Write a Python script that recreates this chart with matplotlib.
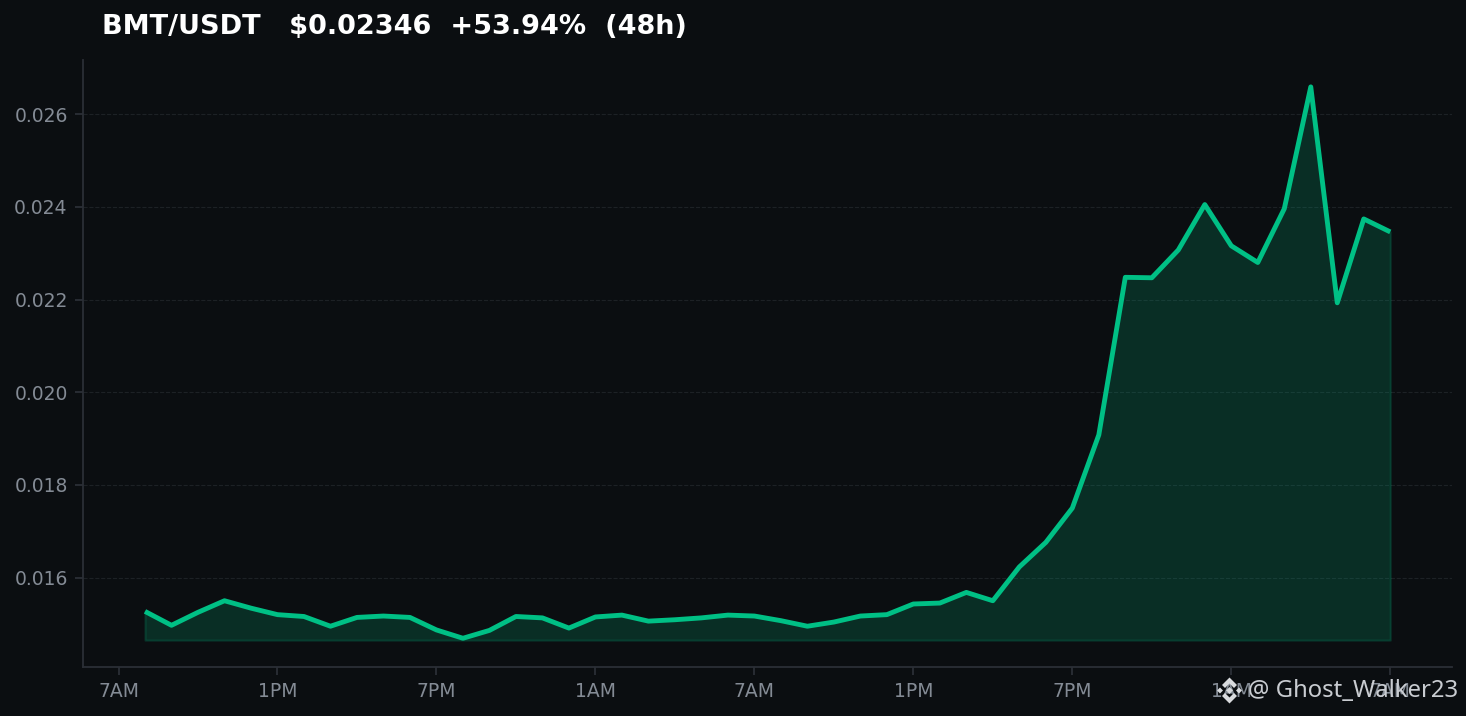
import matplotlib
matplotlib.use("Agg")
import matplotlib.pyplot as plt
from matplotlib.patches import Polygon

BG = '#0b0e11'
GREEN = '#00c085'
MUTED = '#848b95'
SPINE = '#2b2f36'

title = 'BMT/USDT   $0.02346  +53.94%  (48h)'
watermark = '@ Ghost_Walker23'

# hours since 7AM on the first day
hours = list(range(1, 49))
prices = [
    0.01527, 0.01497, 0.01525, 0.01550, 0.01534, 0.01520, 0.01516, 0.01495,
    0.01514, 0.01517, 0.01514, 0.01487, 0.01469, 0.01486, 0.01516, 0.01513,
    0.01491, 0.01515, 0.01519, 0.01506, 0.01509, 0.01513, 0.01519, 0.01517,
    0.01507, 0.01495, 0.01504, 0.01517, 0.01520, 0.01543, 0.01545, 0.01568,
    0.01550, 0.01623, 0.01676, 0.01750, 0.01908, 0.02248, 0.02247, 0.02307,
    0.02405, 0.02316, 0.02280, 0.02396, 0.02659, 0.02193, 0.02374, 0.02346,
]
fill_base = 0.01465

x_ticks = [0, 6, 12, 18, 24, 30, 36, 42, 48]
x_labels = ['7AM', '1PM', '7PM', '1AM', '7AM', '1PM', '7PM', '1AM', '7AM']
y_ticks = [0.016, 0.018, 0.020, 0.022, 0.024, 0.026]

W, H = 1466, 716
fig = plt.figure(figsize=(W / 100, H / 100), dpi=100, facecolor=BG)
ax = fig.add_axes([83 / W, 1 - 667 / H, (1452 - 83) / W, (667 - 60) / H], facecolor=BG)

ax.fill_between(hours, prices, fill_base, color=GREEN, alpha=0.18, linewidth=1.5)
ax.plot(hours, prices, color=GREEN, linewidth=3.5, solid_joinstyle='round', solid_capstyle='butt')

ax.set_xlim(-1.34, 50.33)
ax.set_ylim(0.01407, 0.02717)
ax.set_xticks(x_ticks)
ax.set_xticklabels(x_labels)
ax.set_yticks(y_ticks)
ax.set_yticklabels(['%.3f' % v for v in y_ticks])
ax.tick_params(colors=SPINE, labelcolor=MUTED, labelsize=13.5, length=6, width=1.3, pad=5)
ax.grid(axis='y', color='#22262b', linestyle='--', linewidth=0.8, alpha=0.8)
ax.set_axisbelow(True)

for side in ['top', 'right']:
    ax.spines[side].set_visible(False)
for side in ['left', 'bottom']:
    ax.spines[side].set_color(SPINE)
    ax.spines[side].set_linewidth(1.3)

fig.text(102 / W, 1 - 27 / H, title, color='white', fontsize=19.5, fontweight='bold', va='center', ha='left')

# watermark on top of the axis labels
fig.text(1458 / W, 1 - 691 / H, watermark, color='#c9ccd1', fontsize=17.2, family='Noto Sans', va='center', ha='right')
logo_x, logo_y = 1229.5, 690.5
logo_parts = [
    [(0, -13), (7.5, -5.5), (4.5, -2.5), (0, -7), (-4.5, -2.5), (-7.5, -5.5)],
    [(0, 13), (7.5, 5.5), (4.5, 2.5), (0, 7), (-4.5, 2.5), (-7.5, 5.5)],
    [(-9.5, -3), (-6.5, 0), (-9.5, 3), (-12.5, 0)],
    [(9.5, -3), (12.5, 0), (9.5, 3), (6.5, 0)],
    [(0, -3.5), (3.5, 0), (0, 3.5), (-3.5, 0)],
]
for part in logo_parts:
    pts = [((logo_x + dx) / W, 1 - (logo_y + dy) / H) for dx, dy in part]
    fig.add_artist(Polygon(pts, closed=True, transform=fig.transFigure, facecolor='#d9dbde', edgecolor='none'))

fig.savefig('out.png', dpi=100, facecolor=BG)
